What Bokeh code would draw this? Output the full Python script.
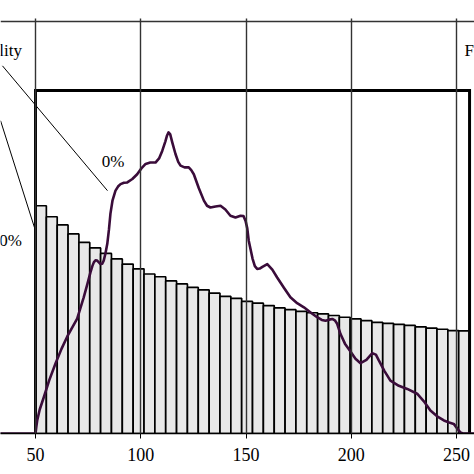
import numpy as np
from bokeh.plotting import figure
from bokeh.models import Range1d, FixedTicker, Label
from bokeh.embed import file_html
from bokeh.resources import INLINE

# --- data -------------------------------------------------------------
bin_start = 50.0
bin_width = 5.155
bar_heights = [66.4, 63.2, 60.8, 58.2, 55.7, 54.1, 52.5, 50.9, 49.4, 48.0,
               46.5, 45.7, 44.5, 43.6, 42.6, 41.9, 40.9, 40.0, 39.4, 38.5,
               38.0, 37.3, 36.6, 36.1, 35.6, 35.2, 34.9, 34.4, 33.9, 33.4,
               32.9, 32.4, 32.1, 31.8, 31.5, 31.1, 30.7, 30.4, 30.0, 29.9]

curve_x = [20, 50.0, 50.4, 50.8, 52.0, 53.9, 56.5, 59.5, 62.3, 65.1, 69.8,
           72.9, 74.6, 76.1, 77.0, 77.7, 78.5, 79.3, 80.1, 80.9, 81.7,
           82.4, 83.2, 84.1, 84.9, 85.6, 86.6, 88.0, 89.2, 90.4, 92.0,
           93.6, 96.0, 98.3, 100.3, 102.3, 104.5, 107.0, 108.8, 110.2,
           111.7, 112.5, 113.2, 114.0, 115.0, 116.5, 117.8, 118.9, 120.8,
           122.8, 124.0, 125.2, 127.6, 130.0, 131.5, 133.1, 135.5, 137.9,
           140.2, 142.6, 145.0, 147.4, 148.8, 149.8, 150.6, 151.3, 153.1,
           154.2, 155.3, 156.5, 157.8, 160.1, 162.5, 164.8, 168.0, 171.1,
           174.3, 177.5, 180.7, 183.8, 186.0, 187.8, 189.5, 191.0, 192.2,
           193.3, 194.9, 197.0, 199.3, 202.0, 204.4, 207.2, 210.0, 211.7,
           213.1, 215.8, 218.6, 222.6, 226.6, 231.3, 234.5, 237.6, 240.8,
           244.0, 246.5, 248.7, 250.3, 251.9, 253.0, 270]
curve_y = [0, 0, 2.0, 3.8, 7.0, 10.5, 15.5, 20.4, 24.6, 28.3, 33.5,
           39.7, 43.5, 47.0, 48.8, 49.9, 50.5, 50.4, 49.9, 49.4, 49.5,
           50.4, 52.4, 55.3, 59.5, 64.1, 68.0, 70.8, 72.0, 72.7, 73.1,
           73.2, 74.2, 75.6, 77.3, 78.6, 79.0, 79.0, 80.3, 82.4,
           85.2, 86.9, 87.8, 87.2, 84.8, 81.5, 79.2, 78.1, 77.6,
           77.6, 76.8, 75.6, 71.5, 67.9, 66.4, 65.9, 66.2, 66.4,
           65.3, 63.5, 63.0, 63.5, 63.4, 62.0, 59.8, 56.2, 51.0,
           48.8, 48.0, 48.1, 48.6, 49.4, 47.8, 45.5, 42.5, 39.7,
           38.0, 36.8, 35.3, 33.9, 33.1, 32.9, 33.2, 33.4, 33.0,
           32.0, 29.0, 26.2, 24.2, 21.8, 20.5, 21.5, 23.4, 23.0,
           21.3, 18.2, 15.4, 13.9, 13.0, 11.6, 9.4, 6.7, 5.0,
           3.8, 3.2, 2.8, 1.5, 0.3, 0, 0]

box_x = [50, 50, 256.2, 256.2]
box_y = [0, 100, 100, 0]

x_ticks = [50, 100, 150, 200, 250]
y_top = 120

# --- figure -----------------------------------------------------------
p = figure(width=474, height=474, output_backend="svg", toolbar_location=None,
           x_range=Range1d(33.37, 258.55), y_range=Range1d(0, 121),
           y_axis_location=None, min_border_left=0, min_border_right=0,
           min_border_top=18, min_border_bottom=41)
p.outline_line_color = None
p.background_fill_color = "white"

# grid
p.xgrid.ticker = FixedTicker(ticks=x_ticks)
p.xgrid.grid_line_color = "#333333"
p.xgrid.grid_line_width = 1.4
p.xgrid.level = "overlay"
p.ygrid.ticker = FixedTicker(ticks=[y_top])
p.ygrid.grid_line_color = "#333333"
p.ygrid.grid_line_width = 1.6

# bars
n = len(bar_heights)
lefts = bin_start + bin_width * np.arange(n)
p.quad(left=lefts, right=lefts + bin_width, bottom=0, top=bar_heights,
       fill_color="#e8e8e8", line_color="black", line_width=1.7)

# box
p.line(box_x, box_y, line_color="black", line_width=3, line_join="miter")

# curve
p.line(curve_x, curve_y, line_color="#3a0c3a", line_width=2.6,
       line_join="round", line_cap="round")

# leader lines
p.line([34.3, 84.2], [107.2, 70.8], line_color="black", line_width=1)
p.line([33.4, 50.0], [91.2, 59.1], line_color="black", line_width=1)

font = "Liberation Serif"
for txt, x, y, align in [("lity", 43.6, 111.6, "right"),
                         ("0%", 81.5, 79.3, "left"),
                         ("0%", 43.6, 56.2, "right"),
                         ("F", 258.3, 111.6, "right")]:
    p.add_layout(Label(x=x, y=y, text=txt, text_font=font, text_font_size="17px",
                       text_align=align, text_baseline="middle", text_color="black"))

# x axis
ax = p.xaxis[0]
ax.ticker = FixedTicker(ticks=x_ticks)
ax.minor_tick_line_color = None
ax.major_tick_in = 0
ax.major_tick_out = 5
ax.major_tick_line_color = "black"
ax.axis_line_color = "black"
ax.axis_line_width = 1.5
ax.major_label_text_font = font
ax.major_label_text_font_size = "18px"
ax.major_label_text_color = "black"
ax.major_label_standoff = 9

open("out.html", "w").write(file_html(p, INLINE))
